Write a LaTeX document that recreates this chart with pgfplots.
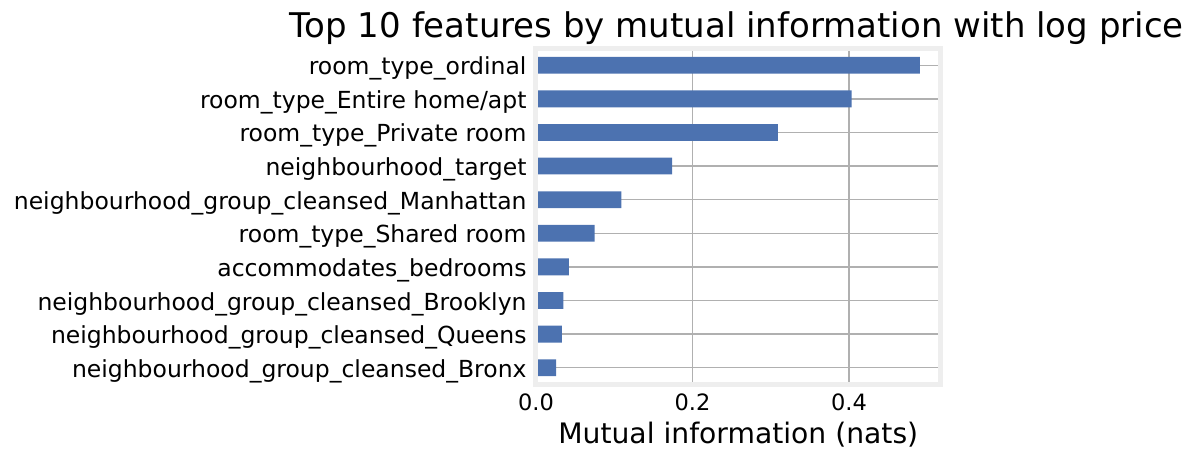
\documentclass[border=0pt]{standalone}
\usepackage{fontspec}
\setmainfont{DejaVu Sans}
\usepackage{pgfplots}
\pgfplotsset{compat=1.18}
\definecolor{barblue}{HTML}{4C72B0}
\definecolor{framegray}{HTML}{EEEEEE}
\definecolor{gridgray}{HTML}{B0B0B0}
\begin{document}
\begin{tikzpicture}
\useasboundingbox (-536pt,-78.5pt) rectangle (664pt,384.5pt);
\begin{axis}[
  at={(0,0)}, anchor=south west,
  scale only axis,
  width=404.5pt, height=336pt,
  xmin=0, xmax=0.517,
  ymin=-0.5, ymax=9.5,
  clip=false,
  xbar, bar width=0.5, bar shift=0pt,
  axis line style={draw=none},
  major tick length=0pt,
  grid=major,
  major grid style={draw=gridgray, line width=1.3pt},
  xtick={0,0.2,0.4},
  xticklabel style={/pgf/number format/.cd, fixed, fixed zerofill, precision=1, /tikz/.cd, anchor=base, yshift=-25.5pt, font=\fontsize{22.5}{26}\selectfont},
  /pgf/number format/assume math mode=true,
  ytick={0,1,2,3,4,5,6,7,8,9},
  yticklabels={neighbourhood\_group\_cleansed\_Bronx,
    neighbourhood\_group\_cleansed\_Queens,
    neighbourhood\_group\_cleansed\_Brooklyn,
    accommodates\_bedrooms,
    room\_type\_Shared room,
    neighbourhood\_group\_cleansed\_Manhattan,
    neighbourhood\_target,
    room\_type\_Private room,
    room\_type\_Entire home/apt,
    room\_type\_ordinal},
  yticklabel style={anchor=base east, inner sep=0pt, xshift=-9.3pt, yshift=-9.5pt, font=\fontsize{23.5}{28}\selectfont},
]
\addplot[fill=barblue, draw=none] coordinates {
  (0.0256,0) (0.033,1) (0.035,2) (0.042,3) (0.075,4)
  (0.109,5) (0.174,6) (0.309,7) (0.4034,8) (0.4907,9)
};
\draw[framegray, line width=5pt] (rel axis cs:0,0) rectangle (rel axis cs:1,1);
\node[anchor=base, font=\fontsize{34}{40}\selectfont] at (rel axis cs:0.5,1) [yshift=11.2pt, xshift=-1.5pt] {Top 10 features by mutual information with log price};
\node[anchor=base, font=\fontsize{28.2}{34}\selectfont] at (rel axis cs:0.5,0) [yshift=-58.8pt] {Mutual information (nats)};
\end{axis}
\end{tikzpicture}
\end{document}
